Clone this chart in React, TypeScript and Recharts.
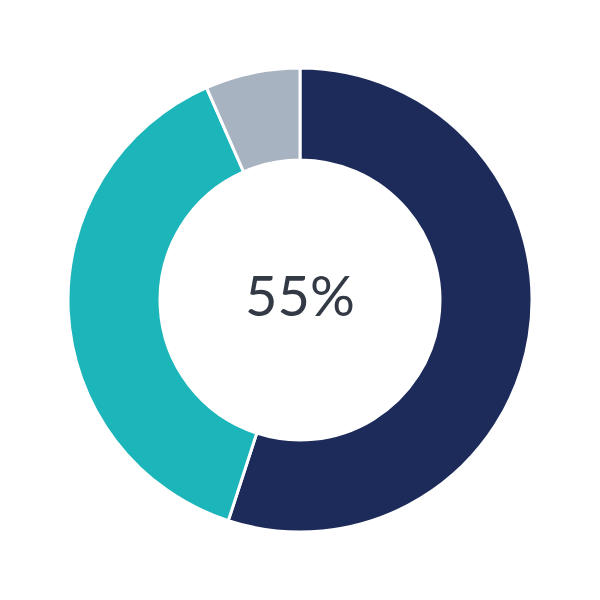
import React from 'react';
import { PieChart, Pie, Cell } from 'recharts';

const labels = ['Navy', 'Teal', 'Gray'];
const values = [55, 38.4, 6.6];
const colors = ['#1c2b5a', '#1cb5b9', '#a8b3c2'];
const centerLabel = '55%';

const data = labels.map((name, i) => ({ name, value: values[i] }));

export default function App() {
  return (
    <div style={{ position: 'absolute', left: 0, top: 0, width: 600, height: 600, background: '#fff' }}>
      <PieChart width={600} height={600} margin={{ top: 0, right: 0, bottom: 0, left: 0 }}>
        <Pie
          data={data}
          dataKey="value"
          cx={300}
          cy={300}
          innerRadius={140}
          outerRadius={232}
          startAngle={90}
          endAngle={-270}
          stroke="#ffffff"
          strokeWidth={3}
          isAnimationActive={false}
        >
          {data.map((d, i) => (
            <Cell key={d.name} fill={colors[i]} />
          ))}
        </Pie>
        <text
          x={300}
          y={294}
          textAnchor="middle"
          dominantBaseline="central"
          fontFamily="Lato"
          fontSize={56}
          fill="#343a45"
        >
          {centerLabel}
        </text>
      </PieChart>
    </div>
  );
}
